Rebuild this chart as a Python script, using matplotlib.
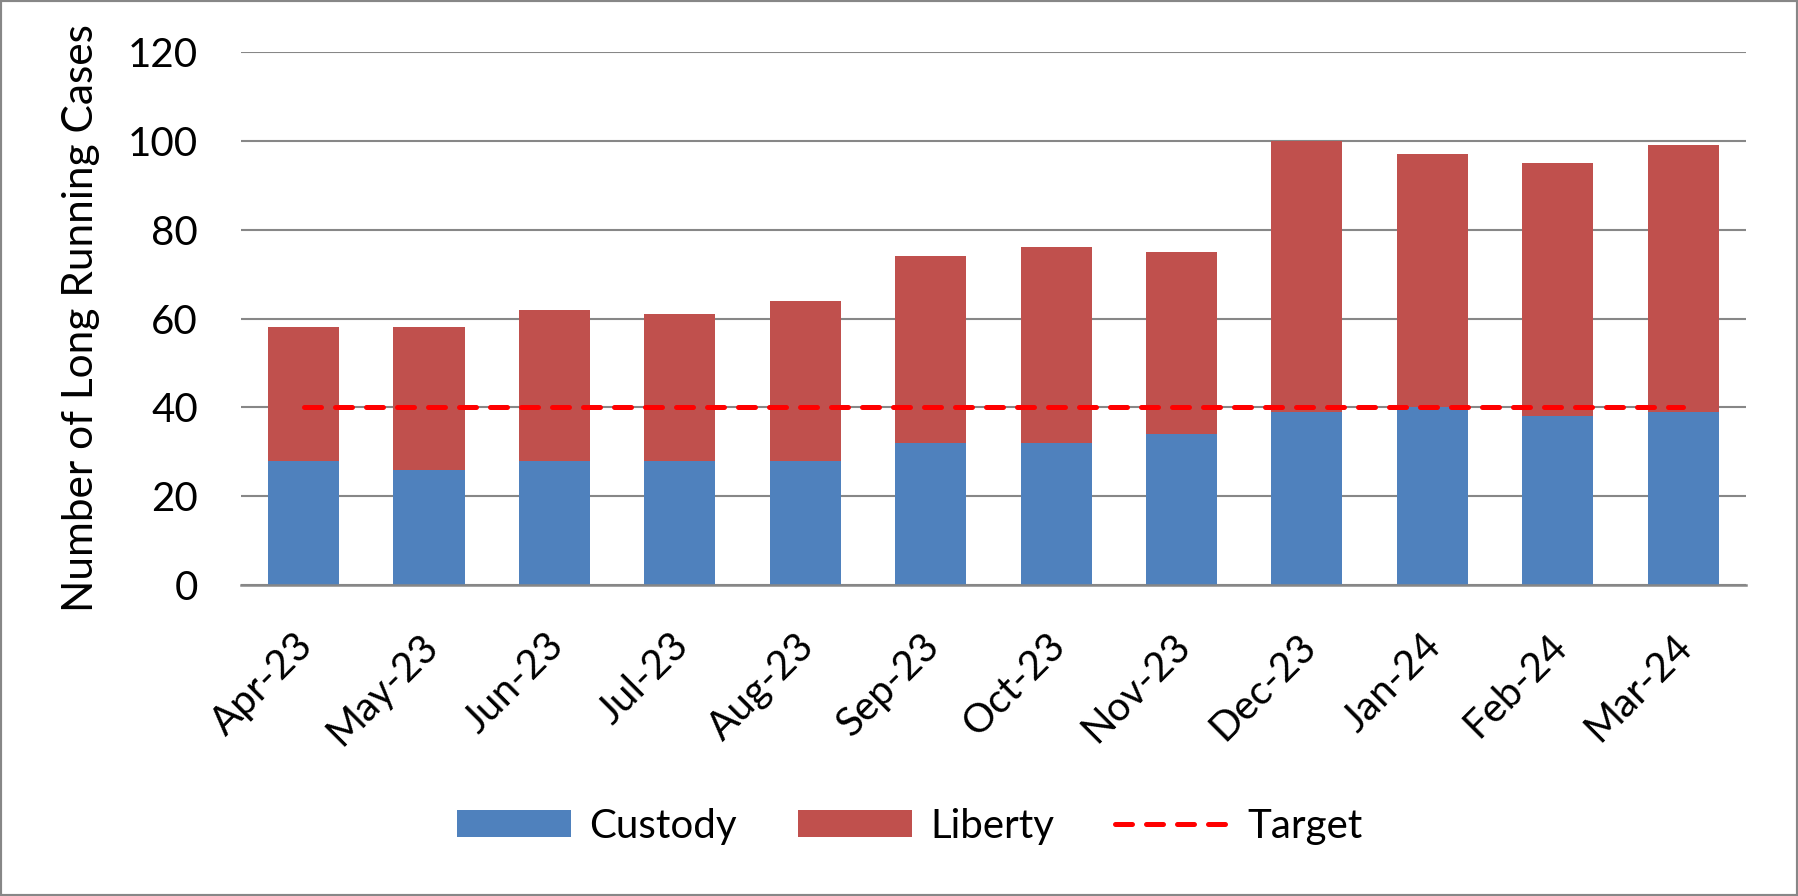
import matplotlib.pyplot as plt
import matplotlib.transforms as mtransforms
import numpy as np

# values
months = ['Apr-23', 'May-23', 'Jun-23', 'Jul-23', 'Aug-23', 'Sep-23',
          'Oct-23', 'Nov-23', 'Dec-23', 'Jan-24', 'Feb-24', 'Mar-24']
custody = [28, 26, 28, 28, 28, 32, 32, 34, 39, 40, 38, 39]
totals = [58, 58, 62, 61, 64, 74, 76, 75, 100, 97, 95, 99]
liberty = [t - c for t, c in zip(totals, custody)]
target = [40] * 12
yticks = [0, 20, 40, 60, 80, 100, 120]

plt.rcParams['font.family'] = ['Lato', 'DejaVu Sans']
FS = 29

fig = plt.figure(figsize=(17.98, 8.96), dpi=100)
ax = fig.add_axes([0.134, 0.347, 0.837, 0.595])

x = np.arange(len(months))
w = 0.567
b1 = ax.bar(x, custody, w, color='#4F81BD', label='Custody', zorder=2)
b2 = ax.bar(x, liberty, w, bottom=custody, color='#C0504D', label='Liberty', zorder=2)
ln, = ax.plot(x, target, color='#FF0000', linewidth=3.6, linestyle=(0, (3.4, 2.8)),
              dash_capstyle='round', label='Target', zorder=3)

ax.set_xlim(-0.5, len(months) - 0.5)
ax.set_ylim(0, 120)
ax.set_yticks(yticks)
ax.yaxis.grid(True, color='#878787', linewidth=1.5, zorder=0)
ax.set_axisbelow(True)

for s in ['top', 'right', 'left']:
    ax.spines[s].set_visible(False)
ax.spines['bottom'].set_color('#878787')
ax.spines['bottom'].set_linewidth(1.8)

ax.tick_params(axis='both', length=0, labelsize=FS)
ax.tick_params(axis='y', pad=31)
ax.tick_params(axis='x', pad=30)
ax.set_xticks(x)
ax.set_xticklabels(months, rotation=45, ha='right', rotation_mode='anchor')
shift = mtransforms.ScaledTranslation(-10 / 100, 0, fig.dpi_scale_trans)
for lab in ax.get_xticklabels():
    lab.set_transform(lab.get_transform() + shift)
ax.set_ylabel('Number of Long Running Cases', fontsize=30.5, labelpad=20)

fig.legend([b1, b2, ln], ['Custody', 'Liberty', 'Target'], loc='center',
           bbox_to_anchor=(0.506, 0.078), ncol=3, frameon=False,
           fontsize=FS, handlelength=2.85, handleheight=0.65, handletextpad=0.45,
           columnspacing=1.5)

# outer chart border
fig.patches.append(plt.Rectangle((0, 0), 1, 1, transform=fig.transFigure,
                                 fill=False, edgecolor='#878787', linewidth=3))

fig.savefig('out.png', dpi=100)
